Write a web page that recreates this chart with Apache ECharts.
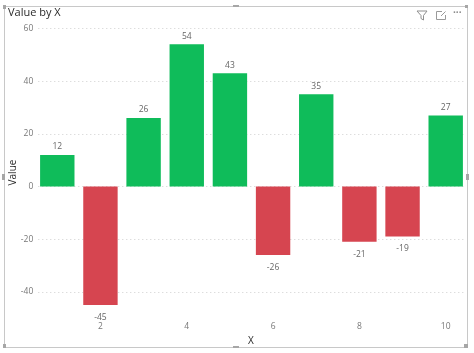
<!DOCTYPE html>
<html>
<head>
<meta charset="utf-8">
<style>
  html, body { margin: 0; padding: 0; background: #fff; }
  #chart { width: 474px; height: 353px; }
</style>
<script src="https://cdn.jsdelivr.net/npm/echarts@6/dist/echarts.min.js"></script>
</head>
<body>
<div id="chart"></div>
<script>
const xValues = [1, 2, 3, 4, 5, 6, 7, 8, 9, 10];
const values = [12, -45, 26, 54, 43, -26, 35, -21, -19, 27];
const xTicks = [2, 4, 6, 8, 10];

const green = '#0fbc5a';
const red = '#d64550';
const frame = '#c8c8c8';
const font = '"Open Sans", sans-serif';

const chart = echarts.init(document.getElementById('chart'));

const handle = (x, y, w, h) => ({
    type: 'rect',
    shape: { x: x, y: y, width: w, height: h },
    style: { fill: '#a6a6a6' }
});

chart.setOption({
    animation: false,
    backgroundColor: '#fff',
    title: {
        text: 'Value by X',
        left: 3,
        top: 2,
        textStyle: { fontFamily: font, fontSize: 11, fontWeight: 'normal', color: '#2b2b2b' }
    },
    // y runs down to -60 so the ticks land on multiples of 20; the -60 line is hidden
    grid: { left: 38.3, right: 10.3, top: 28.5, bottom: 8.5, outerBoundsMode: 'none' },
    xAxis: {
        type: 'value',
        min: 0.56,
        max: 10.417,
        name: 'X',
        nameLocation: 'middle',
        nameGap: -10,
        nameTextStyle: { fontFamily: font, fontSize: 10, color: '#2b2b2b' },
        axisLine: { show: false },
        axisTick: { show: false },
        splitLine: { show: false },
        axisLabel: {
            customValues: xTicks,
            margin: -22,
            fontFamily: font,
            fontSize: 8.5,
            color: '#777'
        }
    },
    yAxis: {
        type: 'value',
        min: -60,
        max: 60,
        interval: 20,
        name: 'Value',
        nameLocation: 'middle',
        nameGap: 20,
        nameMoveOverlap: false,
        nameTextStyle: { fontFamily: font, fontSize: 10, color: '#2b2b2b', padding: [0, 0, 0, 28] },
        axisLine: { show: false },
        axisTick: { show: false },
        axisLabel: {
            margin: 5,
            fontFamily: font,
            fontSize: 8.5,
            color: '#777',
            formatter: v => (v === -60 ? '' : v)
        },
        splitLine: {
            showMinLine: false,
            lineStyle: { type: [1, 3], width: 1, color: '#cfcfcf' }
        }
    },
    series: [
        {
            type: 'bar',
            barWidth: 34.4,
            data: xValues.map((x, i) => ({
                value: [x, values[i]],
                itemStyle: { color: values[i] < 0 ? red : green },
                label: { distance: values[i] < 0 ? 8 : 3.5 }
            })),
            label: {
                show: true,
                position: 'outside',
                fontFamily: font,
                fontSize: 8.5,
                color: '#666'
            }
        }
    ],
    graphic: [
        { type: 'polyline', shape: { points: [[4.5, 6.5], [467.5, 6.5], [467.5, 347.5], [4.5, 347.5], [4.5, 6.5]] }, style: { stroke: frame, fill: null } },
        handle(3, 5, 3, 4),
        handle(233, 5, 6, 2),
        handle(465, 5, 3, 3),
        handle(2, 174, 3, 6),
        handle(466, 174, 3, 6),
        handle(3, 344, 3, 4),
        handle(233, 346, 6, 2),
        handle(464, 344, 4, 4),
        // filter icon
        { type: 'polyline', shape: { points: [[417, 11], [427, 11], [423.5, 15.5], [423.5, 20], [421, 18.5], [421, 15.5], [417, 11]] }, style: { stroke: '#8f8f8f', fill: null, lineWidth: 1 } },
        // focus icon
        { type: 'polyline', shape: { points: [[442, 11.5], [436.5, 11.5], [436.5, 19.5], [445.5, 19.5], [445.5, 15]] }, style: { stroke: '#9a9a9a', fill: null, lineWidth: 1 } },
        { type: 'polyline', shape: { points: [[441, 16], [445.5, 11.5]] }, style: { stroke: '#9a9a9a', fill: null, lineWidth: 1 } },
        // more icon
        { type: 'text', style: { x: 453, y: 8, text: '···', font: 'bold 10px ' + font, fill: '#8a8a8a' } }
    ]
});
</script>
</body>
</html>
